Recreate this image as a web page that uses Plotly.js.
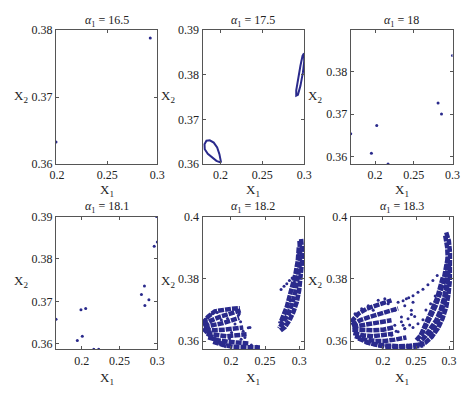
<!DOCTYPE html>
<html><head><meta charset="utf-8">
<script src="https://cdn.plot.ly/plotly-3.0.1.min.js"></script>
<style>body{margin:0;padding:0;background:#fff}#plot{width:474px;height:395px}</style>
</head><body><div id="plot"></div>
<script>
// ---- data ----
const alphaValues = ["16.5","17.5","18","18.1","18.2","18.3"];
const xTicks = [0.2,0.25,0.3];
const xTickText = ["0.2","0.25","0.3"];

// alpha1 = 16.5
const p1x = [0.199, 0.293];
const p1y = [0.3633, 0.3788];

// alpha1 = 17.5 (two closed loops)
const loopAx = [0.2008,0.1988,0.1961,0.1920,0.1873,0.1833,0.1810,0.1813,0.1849,0.1901,0.1952,0.2008];
const loopAy = [0.3603,0.3622,0.3637,0.3648,0.3653,0.3652,0.3644,0.3633,0.3623,0.3614,0.3607,0.3603];
const loopBx = [0.2998,0.3000,0.2985,0.2955,0.2925,0.2905,0.2905,0.2925,0.2955,0.2980,0.2998];
const loopBy = [0.3848,0.3830,0.3805,0.3775,0.3755,0.3753,0.3765,0.3790,0.3820,0.3842,0.3848];

// alpha1 = 18
const p3x = [0.1686,0.1953,0.2022,0.2168,0.2814,0.2858,0.3000];
const p3y = [0.3654,0.3608,0.3673,0.3583,0.3726,0.3700,0.3837];

// alpha1 = 18.1
const p4x = [0.166,0.1942,0.2008,0.199,0.2053,0.216,0.2225,0.279,0.283,0.2889,0.2836,0.2959,0.299,0.3];
const p4y = [0.3658,0.3608,0.3618,0.3680,0.3683,0.3587,0.3587,0.3716,0.3736,0.3704,0.3690,0.3830,0.3900,0.3840];

// alpha1 = 18.2 : strands (null separates strands) and loose points
const s5x = [0.3029,0.3044,0.3039,0.3025,0.3000,0.2966,0.2917,0.2858,0.2794,0.2721,null,
  0.3005,0.3015,0.3005,0.2976,0.2941,0.2897,0.2843,0.2770,0.2706,null,
  0.2995,0.2980,0.2946,0.2907,0.2868,0.2819,0.2770,0.2721,null,
  0.1583,0.1667,0.1765,0.1887,0.2010,0.2132,null,
  0.1593,0.1716,0.1838,0.1961,0.2083,0.2142,null,
  0.1603,0.1740,0.1887,0.2010,0.2123,null,
  0.1618,0.1765,0.1912,0.2059,0.2181,null,
  0.1642,0.1789,0.1936,0.2083,0.2230,null,
  0.1667,0.1814,0.1961,0.2108,0.2255,null,
  0.1740,0.1887,0.2034,0.2181,0.2328,0.2426,null,
  0.1593,0.1691,0.1814,0.1936];
const s5y = [0.3928,0.3890,0.3847,0.3805,0.3763,0.3726,0.3694,0.3667,0.3646,0.3633,null,
  0.3922,0.3879,0.3837,0.3795,0.3757,0.3720,0.3688,0.3662,0.3641,null,
  0.3901,0.3858,0.3816,0.3779,0.3744,0.3710,0.3683,0.3656,null,
  0.3656,0.3679,0.3696,0.3701,0.3704,0.3706,null,
  0.3651,0.3667,0.3678,0.3686,0.3694,0.3699,null,
  0.3646,0.3651,0.3658,0.3667,0.3675,null,
  0.3637,0.3635,0.3637,0.3641,0.3644,null,
  0.3624,0.3619,0.3616,0.3619,0.3622,null,
  0.3612,0.3603,0.3598,0.3595,0.3593,null,
  0.3598,0.3588,0.3582,0.3580,0.3579,0.3580,null,
  0.3641,0.3619,0.3598,0.3584];
const d5x = [0.2735,0.2779,0.2819,0.2858,0.2897,0.2255,0.2279,0.2123,0.2142,0.2010,0.1860,0.1700,0.1980,0.2150,0.2300,0.2380,
  0.1640,0.1720,0.1800,0.1950,0.2060,0.2110,0.2180,0.2205,0.2760,0.2740,0.2810,0.2870,0.2930,0.2990];
const d5y = [0.3766,0.3776,0.3784,0.3795,0.3803,0.3643,0.3644,0.3688,0.3662,0.3628,0.3668,0.3630,0.3608,0.3606,0.3588,0.3584,
  0.3672,0.3688,0.3692,0.3673,0.3655,0.3683,0.3632,0.3612,0.3655,0.3665,0.3690,0.3730,0.3790,0.3880];

// alpha1 = 18.3 : strands and loose points
const s6x = [0.2956,0.2996,0.3016,0.3021,0.3011,0.2991,0.2956,0.2900,0.2830,0.2740,0.2640,0.2540,null,
  0.2941,0.2971,0.2981,0.2976,0.2956,0.2920,0.2870,0.2805,0.2730,0.2640,0.2555,null,
  0.2981,0.2951,0.2910,0.2860,0.2800,0.2730,0.2660,0.2590,0.2505,null,
  0.3001,0.2991,0.2966,0.2931,0.2880,0.2820,0.2755,0.2680,null,
  0.2905,0.2870,0.2820,0.2755,0.2690,0.2630,0.2570,null,
  0.1519,0.1629,0.1754,0.1904,0.2029,0.2130,null,
  0.1529,0.1654,0.1804,0.1954,0.2104,0.2230,null,
  0.1539,0.1679,0.1829,0.1979,0.2130,null,
  0.1539,0.1704,0.1854,0.2004,0.2155,null,
  0.1554,0.1704,0.1854,0.2004,0.2155,null,
  0.1579,0.1729,0.1879,0.2029,0.2180,0.2355,null,
  0.1629,0.1779,0.1929,0.2080,0.2230,0.2380,0.2530,0.2630,null,
  0.1729,0.1879,0.2029,0.2180,0.2330,0.2480,0.2605];
const s6y = [0.3949,0.3922,0.3879,0.3837,0.3795,0.3752,0.3709,0.3672,0.3641,0.3614,0.3595,0.3588,null,
  0.3939,0.3901,0.3858,0.3816,0.3773,0.3736,0.3699,0.3667,0.3641,0.3616,0.3598,null,
  0.3869,0.3826,0.3789,0.3752,0.3715,0.3683,0.3651,0.3624,0.3603,null,
  0.3847,0.3805,0.3763,0.3726,0.3694,0.3662,0.3635,0.3614,null,
  0.3805,0.3773,0.3739,0.3707,0.3675,0.3646,0.3619,null,
  0.3662,0.3688,0.3704,0.3714,0.3725,0.3731,null,
  0.3651,0.3667,0.3678,0.3688,0.3699,0.3705,null,
  0.3646,0.3651,0.3656,0.3662,0.3667,null,
  0.3637,0.3635,0.3635,0.3637,0.3644,null,
  0.3626,0.3619,0.3616,0.3619,0.3624,null,
  0.3616,0.3605,0.3601,0.3601,0.3605,0.3612,null,
  0.3609,0.3595,0.3588,0.3585,0.3584,0.3585,0.3587,0.3591,null,
  0.3598,0.3589,0.3582,0.3581,0.3581,0.3582,0.3587];
const d6x = [0.2390,0.2455,0.2530,0.2605,0.2680,0.2755,0.2820,0.2180,0.2280,0.2380,0.2480,0.2530,0.2430,0.2230,0.2355,0.2305,0.2280,0.2430,0.2305,0.2455,0.2605,0.2200,0.2330,
  0.2130,0.2230,0.2330,0.2405,0.2180,0.2330,0.2455,0.1579,0.1679,0.1779,0.1929,0.2029,0.2080,0.1854,0.2650,0.2720,0.2790,0.2860,0.2920];
const d6y = [0.3739,0.3746,0.3757,0.3767,0.3781,0.3795,0.3811,0.3651,0.3662,0.3672,0.3679,0.3656,0.3699,0.3725,0.3736,0.3730,0.3678,0.3686,0.3651,0.3644,0.3669,0.3632,0.3640,
  0.3619,0.3630,0.3641,0.3652,0.3699,0.3714,0.3725,0.3688,0.3704,0.3714,0.3731,0.3736,0.3720,0.3699,0.3700,0.3720,0.3745,0.3770,0.3795];

// ---- figure ----
const W = 474, H = 395;
const col = [[56,157.3],[202.5,304.2],[350.7,452.5]];
const row = [[30,164],[216.5,349.3]];
const xRanges = [[0.199,0.3],[0.1786,0.3],[0.1686,0.3],[0.166,0.3],[0.1584,0.3074],[0.1514,0.3051]];
const yRanges = [[0.36,0.38],[0.36,0.39],[0.3583,0.3897],[0.3587,0.39],[0.3574,0.4],[0.3574,0.4]];
const yTicks = [[0.36,0.37,0.38],[0.36,0.37,0.38,0.39],[0.36,0.37,0.38],[0.36,0.37,0.38,0.39],[0.36,0.38,0.4],[0.36,0.38,0.4]];
const yTickText = [["0.36","0.37","0.38"],["0.36","0.37","0.38","0.39"],["0.36","0.37","0.38"],["0.36","0.37","0.38","0.39"],["0.36","0.38","0.4"],["0.36","0.38","0.4"]];

const C = '#2a2a8c';
const FONT = 'Liberation Serif, Times New Roman, serif';
const layout = {width:W,height:H,margin:{l:0,r:0,t:0,b:0},paper_bgcolor:'#fff',plot_bgcolor:'#fff',showlegend:false,annotations:[]};
for (let i=0;i<6;i++){
  const r = Math.floor(i/3), c = i%3;
  const xa = i===0?'xaxis':'xaxis'+(i+1), ya = i===0?'yaxis':'yaxis'+(i+1);
  const ax = {showline:true,mirror:'ticks',linecolor:'#555',linewidth:1,ticks:'inside',ticklen:3,tickcolor:'#555',
    showgrid:false,zeroline:false,tickfont:{family:FONT,size:12,color:'#222'},fixedrange:true};
  layout[xa] = Object.assign({},ax,{domain:[col[c][0]/W,col[c][1]/W],range:xRanges[i],tickvals:xTicks,ticktext:xTickText,anchor:'y'+(i===0?'':i+1)});
  layout[ya] = Object.assign({},ax,{domain:[1-row[r][1]/H,1-row[r][0]/H],range:yRanges[i],tickvals:yTicks[i],ticktext:yTickText[i],anchor:'x'+(i===0?'':i+1)});
  const cx = (col[c][0]+col[c][1])/2/W;
  const tY = [20.7,206.5][r], xtY=[179.5,367.5][r], ytY=[97,281][r];
  const ytX = [21,167.5,314.5][c];
  layout.annotations.push({xref:'paper',yref:'paper',x:cx,y:1-tY/H,xanchor:'center',yanchor:'middle',showarrow:false,
    text:'<i>α</i><sub>1</sub> = '+alphaValues[i],font:{family:FONT,size:12,color:'#222'}});
  layout.annotations.push({xref:'paper',yref:'paper',x:cx,y:1-xtY/H,xanchor:'center',yanchor:'top',showarrow:false,
    text:'X<sub>1</sub>',font:{family:FONT,size:13,color:'#222'}});
  layout.annotations.push({xref:'paper',yref:'paper',x:ytX/W,y:1-ytY/H,xanchor:'center',yanchor:'middle',showarrow:false,
    text:'X<sub>2</sub>',font:{family:FONT,size:13,color:'#222'}});
}
function ax(i){return {xaxis:i===0?'x':'x'+(i+1),yaxis:i===0?'y':'y'+(i+1)};}
const dots = (x,y,i,s)=>Object.assign({type:'scatter',mode:'markers',x:x,y:y,marker:{color:C,size:s||3},hoverinfo:'skip'},ax(i));
const lines = (x,y,i,w)=>Object.assign({type:'scatter',mode:'lines',x:x,y:y,line:{color:C,width:w},connectgaps:false,hoverinfo:'skip'},ax(i));
const strands = (x,y,i)=>Object.assign({type:'scatter',mode:'lines',x:x,y:y,line:{color:C,width:4.5,dash:'6px,1px'},connectgaps:false,hoverinfo:'skip'},ax(i));
const data = [
  dots(p1x,p1y,0,3),
  lines(loopAx,loopAy,1,2),
  lines(loopBx,loopBy,1,2),
  dots(p3x,p3y,2,3),
  dots(p4x,p4y,3,3),
  strands(s5x,s5y,4), dots(d5x,d5y,4,3),
  strands(s6x,s6y,5), dots(d6x,d6y,5,3)
];
Plotly.newPlot('plot',data,layout,{staticPlot:true,displayModeBar:false});
</script></body></html>
